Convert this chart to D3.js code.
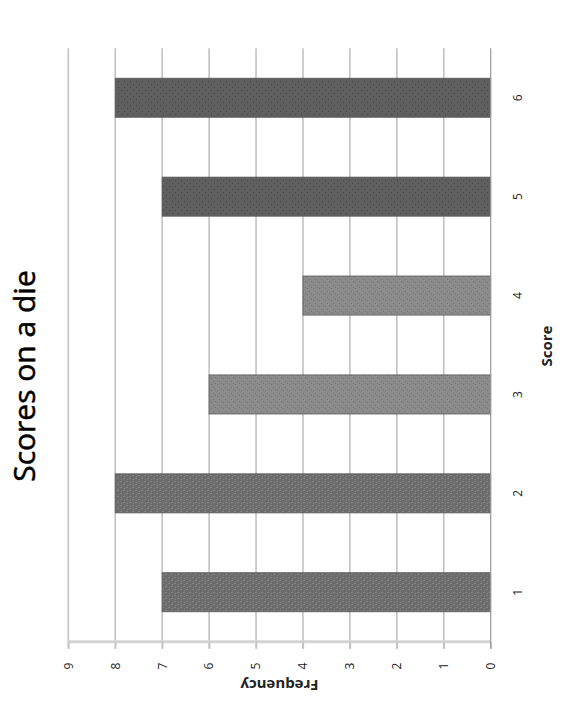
<!DOCTYPE html>
<html>
<head>
<meta charset="utf-8">
<script src="https://cdn.jsdelivr.net/npm/d3@7"></script>
<style>
  html, body { margin: 0; padding: 0; background: #fff; }
  svg { display: block; font-family: "Open Sans", sans-serif; }
</style>
</head>
<body>
<div id="chart"></div>
<script>
'use strict'

// data
const scores = ['1', '2', '3', '4', '5', '6']
const frequency = [7, 8, 6, 4, 7, 8]
const freqTicks = [0, 1, 2, 3, 4, 5, 6, 7, 8, 9]
const fillIds = ['p12', 'p12', 'p34', 'p34', 'p56', 'p56']

////////////////////////////////////
//////////// svg setup /////////////
////////////////////////////////////

const svgWidth = 586
const svgHeight = 722

// the chart is drawn as a normal column chart, then turned a quarter left
const plot = { left: 80.3, right: 673.7, top: 68.3, bottom: 490.7 }

const svg = d3.select('#chart')
    .append('svg')
    .attr('width', svgWidth)
    .attr('height', svgHeight)

// textures for the bars
const defs = svg.append('defs')

function addPattern(id, bg, fg, dots) {
    const p = defs.append('pattern')
        .attr('id', id)
        .attr('patternUnits', 'userSpaceOnUse')
        .attr('width', 6)
        .attr('height', 6)
    p.append('rect').attr('width', 6).attr('height', 6).attr('fill', bg)
    dots.forEach(d => {
        p.append('rect')
            .attr('x', d[0]).attr('y', d[1])
            .attr('width', d[2]).attr('height', d[3])
            .attr('fill', fg)
    })
}
addPattern('p12', '#6c6c6c', '#838383', [[0, 0, 1, 2], [3, 3, 1, 2], [2, 1, 1, 1], [5, 4, 1, 1]])
addPattern('p34', '#8b8b8b', '#737373', [[1, 1, 1, 1], [4, 3, 1, 1], [2, 5, 1, 1]])
addPattern('p56', '#5f5f5f', '#464646', [[1, 1, 1, 1], [4, 4, 1, 1]])

const g = svg.append('g')
    .attr('transform', `translate(0,${svgHeight}) rotate(-90)`)

////////////////////////////////////
////////////// scales //////////////
////////////////////////////////////

const x = d3.scaleBand()
    .domain(scores)
    .range([plot.left, plot.right])
    .paddingInner(0.605)
    .paddingOuter(0.3025)

const y = d3.scaleLinear()
    .domain([0, 9])
    .range([plot.bottom, plot.top])

////////////////////////////////////
//////////// add to DOM ////////////
////////////////////////////////////

// gridlines
g.append('g')
    .selectAll('line')
    .data(freqTicks.slice(1))
    .join('line')
    .attr('x1', plot.left - 7)
    .attr('x2', plot.right)
    .attr('y1', d => y(d))
    .attr('y2', d => y(d))
    .attr('stroke', '#c2c2c2')
    .attr('stroke-width', 1.6)

// value axis line + ticks
g.append('line')
    .attr('x1', plot.left).attr('x2', plot.left)
    .attr('y1', y(9)).attr('y2', y(0))
    .attr('stroke', '#d4d4d4')
    .attr('stroke-width', 3)

const yAxis = g.append('g')
    .attr('transform', `translate(${plot.left},0)`)
    .call(d3.axisLeft(y).tickValues(freqTicks).tickSize(7).tickPadding(14))
yAxis.select('.domain').remove()
yAxis.selectAll('.tick line').attr('stroke', '#c2c2c2').attr('stroke-width', 1.4)
yAxis.selectAll('.tick text')
    .attr('fill', '#222')
    .style('font-family', '"Open Sans", sans-serif')
    .style('font-size', '12px')

// bars
g.append('g')
    .selectAll('rect')
    .data(frequency)
    .join('rect')
    .attr('x', (d, i) => x(scores[i]))
    .attr('y', d => y(d))
    .attr('width', x.bandwidth())
    .attr('height', d => y(0) - y(d))
    .attr('fill', (d, i) => `url(#${fillIds[i]})`)
    .attr('stroke', '#5a5a5a')
    .attr('stroke-width', 0.8)

// category axis line
g.append('line')
    .attr('x1', plot.left - 7).attr('x2', plot.right)
    .attr('y1', y(0)).attr('y2', y(0))
    .attr('stroke', '#9a9a9a')
    .attr('stroke-width', 1.2)

// category labels
g.append('g')
    .selectAll('text')
    .data(scores)
    .join('text')
    .attr('x', d => x(d) + x.bandwidth() / 2)
    .attr('y', 522)
    .attr('text-anchor', 'middle')
    .attr('fill', '#222')
    .style('font-size', '12px')
    .text(d => d)

// axis titles
g.append('text')
    .attr('x', 376)
    .attr('y', 552)
    .attr('text-anchor', 'middle')
    .attr('fill', '#222')
    .style('font-size', '15px')
    .style('font-weight', 'bold')
    .text('Score')

g.append('text')
    .attr('transform', `translate(42,${(plot.top + plot.bottom) / 2}) rotate(-90)`)
    .attr('text-anchor', 'middle')
    .attr('fill', '#222')
    .style('font-size', '15px')
    .style('font-weight', 'bold')
    .text('Frequency')

// chart title
g.append('text')
    .attr('x', 346)
    .attr('y', 35)
    .attr('text-anchor', 'middle')
    .attr('fill', '#000')
    .attr('stroke', '#000')
    .attr('stroke-width', 0.5)
    .style('font-size', '30px')
    .text('Scores on a die')
</script>
</body>
</html>
